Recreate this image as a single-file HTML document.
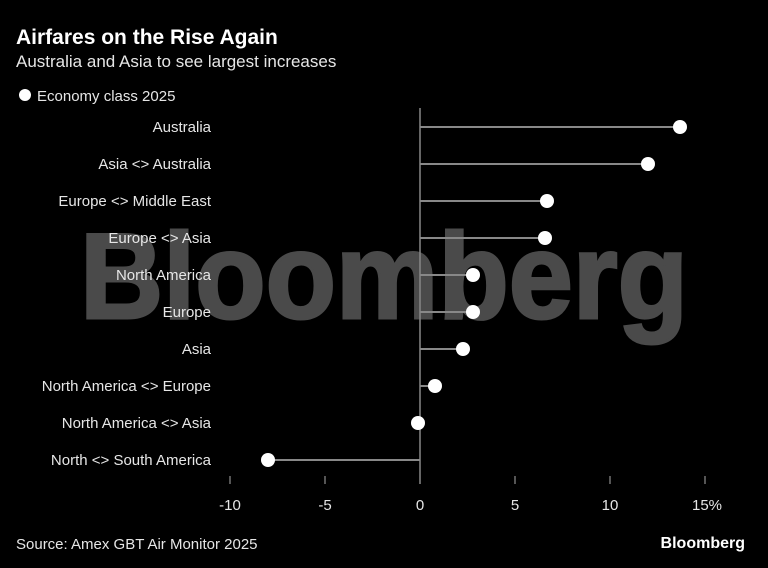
<!DOCTYPE html>
<html><head><style>
body{margin:0;background:#000;width:768px;height:568px;overflow:hidden;font-family:"Liberation Sans",sans-serif;color:#fff}
</style></head><body>
<svg width="768" height="568" xmlns="http://www.w3.org/2000/svg" style="position:absolute;left:0;top:0">
<rect width="768" height="568" fill="#000"/>
<text x="80" y="318" textLength="608" lengthAdjust="spacingAndGlyphs" font-family="Liberation Sans, sans-serif" font-weight="bold" font-size="122" fill="#4a4a4a" stroke="#4a4a4a" stroke-width="3">Bloomberg</text>
<text x="16" y="44" font-size="21" font-weight="bold" fill="#fff">Airfares on the Rise Again</text>
<text x="16" y="67" font-size="17" fill="#e6e6e6">Australia and Asia to see largest increases</text>
<circle cx="25" cy="95" r="6" fill="#fff"/>
<text x="37" y="101" font-size="15" fill="#e6e6e6">Economy class 2025</text>
<line x1="420" y1="108" x2="420" y2="484" stroke="#888" stroke-width="1.5"/>
<g stroke="#888" stroke-width="2">
<line x1="420" y1="127" x2="680" y2="127"/>
<line x1="420" y1="164" x2="648" y2="164"/>
<line x1="420" y1="201" x2="547" y2="201"/>
<line x1="420" y1="238" x2="545" y2="238"/>
<line x1="420" y1="275" x2="473" y2="275"/>
<line x1="420" y1="312" x2="473" y2="312"/>
<line x1="420" y1="349" x2="463" y2="349"/>
<line x1="420" y1="386" x2="435" y2="386"/>
<line x1="420" y1="460" x2="268" y2="460"/>
</g>
<g fill="#fff">
<circle cx="680" cy="127" r="7"/><circle cx="648" cy="164" r="7"/><circle cx="547" cy="201" r="7"/><circle cx="545" cy="238" r="7"/><circle cx="473" cy="275" r="7"/><circle cx="473" cy="312" r="7"/><circle cx="463" cy="349" r="7"/><circle cx="435" cy="386" r="7"/><circle cx="418" cy="423" r="7"/><circle cx="268" cy="460" r="7"/>
</g>
<g font-size="15" fill="#e6e6e6" text-anchor="end">
<text x="211" y="132">Australia</text>
<text x="211" y="169">Asia &lt;&gt; Australia</text>
<text x="211" y="206">Europe &lt;&gt; Middle East</text>
<text x="211" y="243">Europe &lt;&gt; Asia</text>
<text x="211" y="280">North America</text>
<text x="211" y="317">Europe</text>
<text x="211" y="354">Asia</text>
<text x="211" y="391">North America &lt;&gt; Europe</text>
<text x="211" y="428">North America &lt;&gt; Asia</text>
<text x="211" y="465">North &lt;&gt; South America</text>
</g>
<g stroke="#aaa" stroke-width="1">
<line x1="230" y1="476" x2="230" y2="484"/><line x1="325" y1="476" x2="325" y2="484"/><line x1="515" y1="476" x2="515" y2="484"/><line x1="610" y1="476" x2="610" y2="484"/><line x1="705" y1="476" x2="705" y2="484"/>
</g>
<g font-size="15" fill="#e6e6e6" text-anchor="middle">
<text x="230" y="510">-10</text><text x="325" y="510">-5</text><text x="420" y="510">0</text><text x="515" y="510">5</text><text x="610" y="510">10</text><text x="707" y="510">15%</text>
</g>
<text x="16" y="549" font-size="15" fill="#e6e6e6">Source: Amex GBT Air Monitor 2025</text>
<text x="745" y="548" font-size="16" font-weight="bold" fill="#fff" text-anchor="end">Bloomberg</text>
</svg>
</body></html>
